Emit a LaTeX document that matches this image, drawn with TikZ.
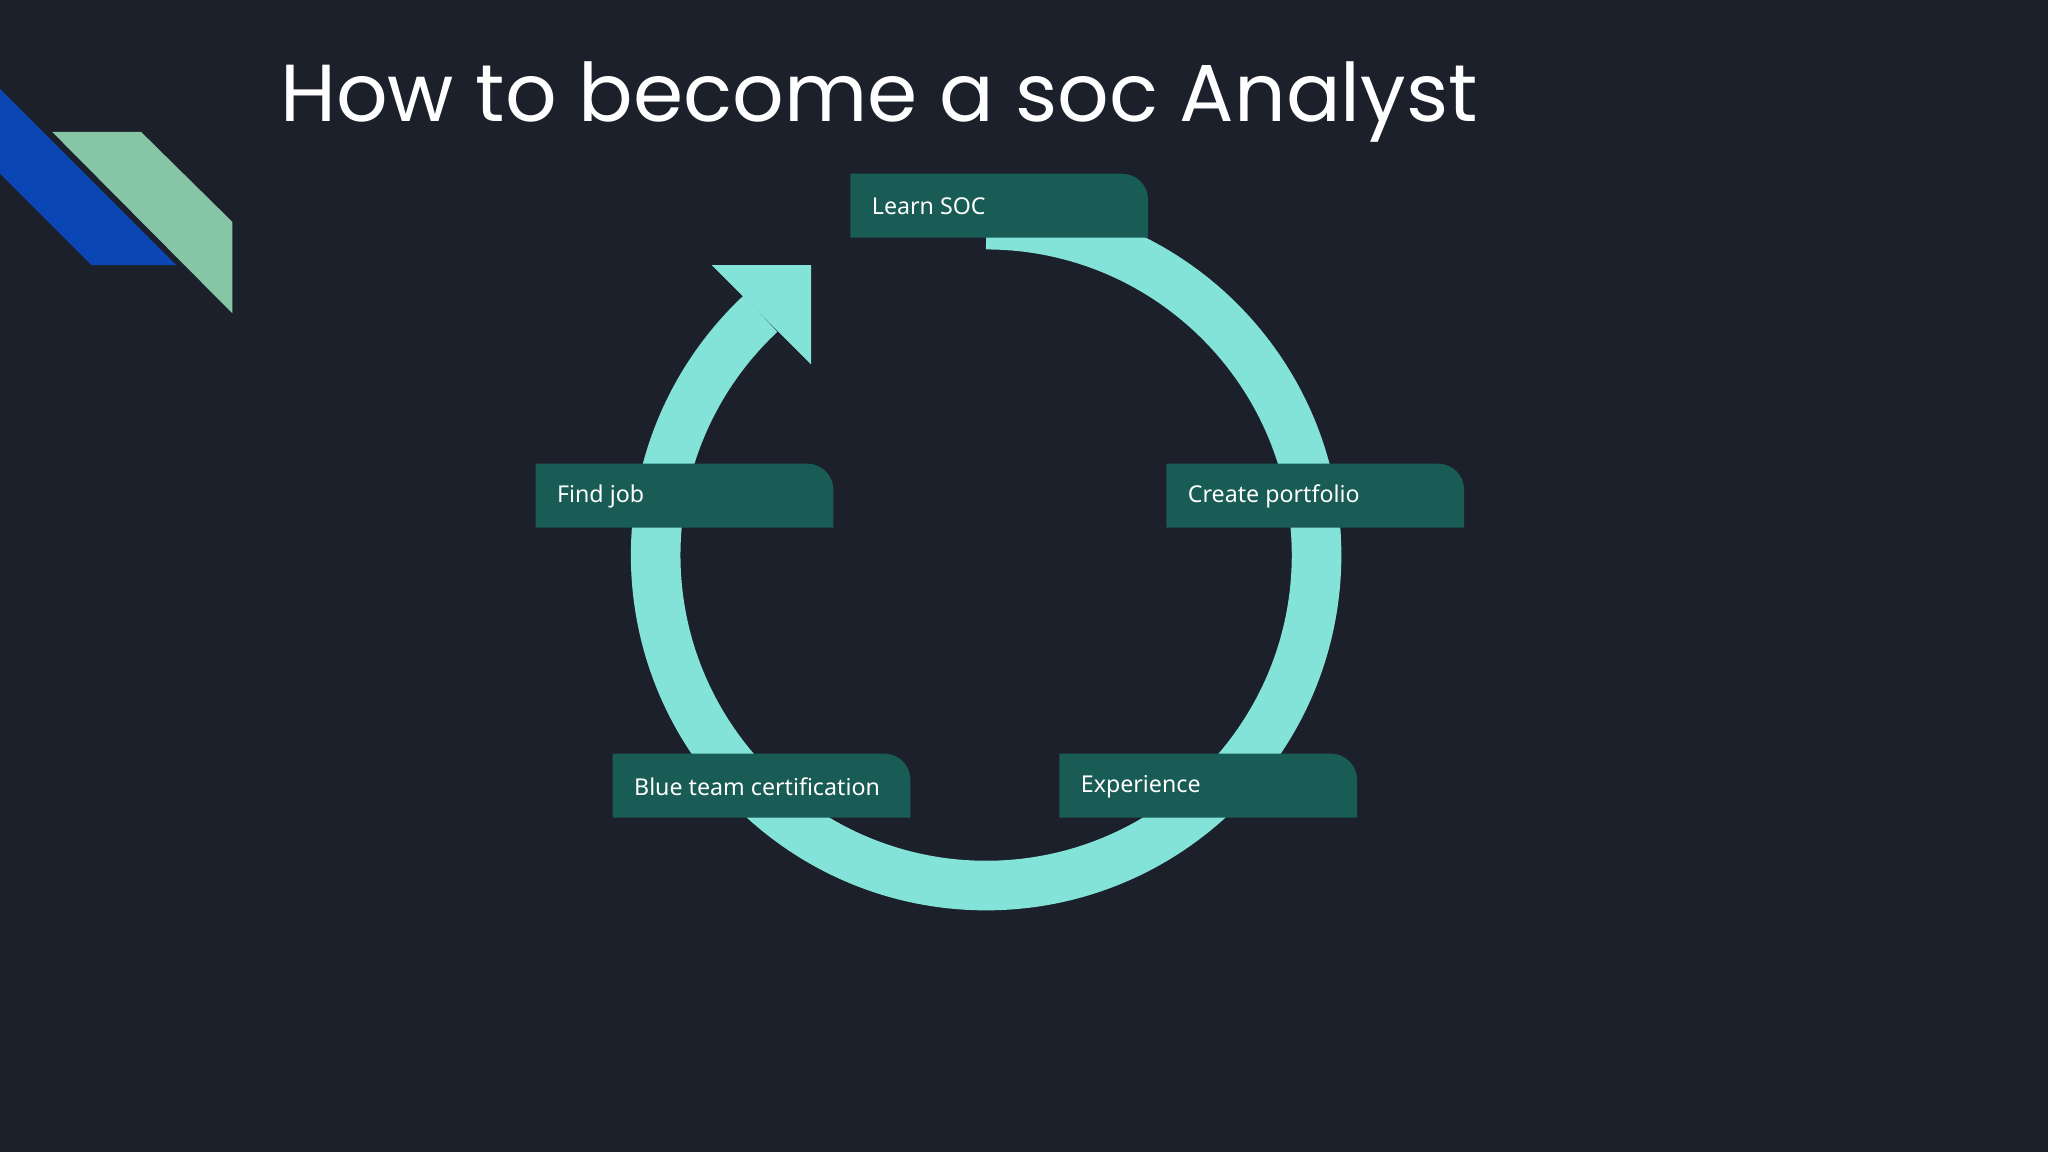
\documentclass[tikz,border=0pt]{standalone}
\usepackage{fontspec}
\setmainfont{Noto Sans}
\newfontfamily\titlefont{Poppins}
\definecolor{bg}{HTML}{1C202B}
\definecolor{ring}{HTML}{84E3D8}
\definecolor{boxc}{HTML}{195B55}
\definecolor{blueband}{HTML}{0A47B4}
\definecolor{greenband}{HTML}{86C5A6}
\tikzset{
  lbl/.style={text=white,font=\fontsize{6.6}{8}\selectfont,anchor=west,inner sep=0pt},
}
\newcommand{\stepbox}[5]{% x1 y1 name text
  \fill[boxc] (#1,#2+49) -- (#1,#2) -- (#1+228,#2) [rounded corners=2.4mm] -- (#1+228,#2) -- (#1+228,#2+49) [sharp corners] -- cycle;
  \node[lbl] (#4) at (#1+16,#2+25) {#5};
}
\begin{document}
\begin{tikzpicture}[x=0.013061cm,y=-0.013061cm]
\fill[bg] (0,0) rectangle (1568,882);
\useasboundingbox (0,0) rectangle (1568,882);
% corner decoration
\fill[blueband] (0,68) -- (135,203) -- (70,203) -- (0,133) -- cycle;
\fill[greenband] (40,101) -- (108,101) -- (178,170) -- (178,240) -- cycle;
% title
\node[text=white,font=\titlefont\fontsize{23}{28}\selectfont,anchor=base west,inner sep=0pt] (title) at (214,93) {How to become a soc Analyst};
% ring
\draw[ring,line width=0.496cm] (755,425) ++(-90:253) arc[start angle=-90,end angle=226.9,radius=253];
\fill[ring] (545,203) -- (621,203) -- (621,279) -- cycle;
% boxes
\fill[boxc] (651,182) -- (651,133) [rounded corners=2.6mm] -- (879,133) [sharp corners] -- (879,182) -- cycle;
\node[lbl] (learn) at (667,158) {Learn SOC};
\fill[boxc] (410,404) -- (410,355) [rounded corners=2.6mm] -- (638,355) [sharp corners] -- (638,404) -- cycle;
\node[lbl] (find) at (426,380) {Find job};
\fill[boxc] (893,404) -- (893,355) [rounded corners=2.6mm] -- (1121,355) [sharp corners] -- (1121,404) -- cycle;
\node[lbl] (portfolio) at (909,380) {Create portfolio};
\fill[boxc] (469,626) -- (469,577) [rounded corners=2.6mm] -- (697,577) [sharp corners] -- (697,626) -- cycle;
\node[lbl] (cert) at (485,602) {Blue team certification};
\fill[boxc] (811,626) -- (811,577) [rounded corners=2.6mm] -- (1039,577) [sharp corners] -- (1039,626) -- cycle;
\node[lbl] (exp) at (827,602) {Experience};
\end{tikzpicture}
\end{document}
